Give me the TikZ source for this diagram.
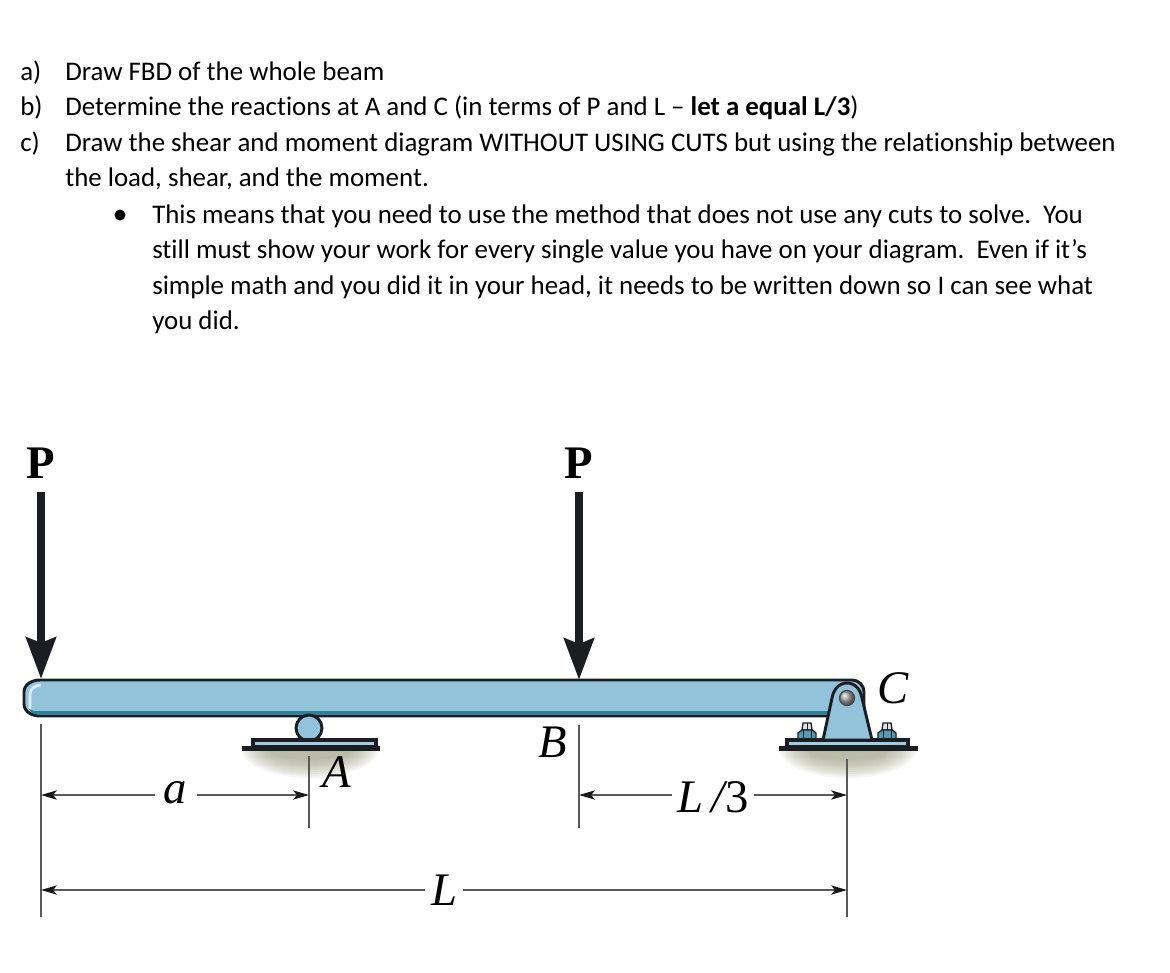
\documentclass[tikz,border=0pt]{standalone}
\usepackage{fontspec}
\setmainfont[Ligatures={NoCommon,TeX}]{Carlito}
\newfontfamily\figfont{Liberation Serif}
\usetikzlibrary{arrows.meta}
\definecolor{beamblue}{HTML}{93C3DB}
\definecolor{beamdark}{HTML}{2F7F98}
\definecolor{beamline}{HTML}{1A1E22}
\definecolor{shadowgray}{HTML}{8F9070}
\tikzset{
	dimtip/.tip={Stealth[length=12pt,width=7pt,inset=3pt,color=black!90]},
	textline/.style={anchor=base west, inner sep=0pt, font=\fontsize{20.17}{24}\selectfont},
	figlabel/.style={anchor=base, inner sep=0pt, font=\fontsize{35}{40}\selectfont\figfont\itshape},
	boldlabel/.style={anchor=base, inner sep=0pt, font=\fontsize{35}{40}\selectfont\figfont\bfseries},
	dimline/.style={draw=black!65, line width=0.9pt},
	dimleft/.style={draw=black!65, line width=0.9pt, dimtip-},
	dimright/.style={draw=black!65, line width=0.9pt, -dimtip},
	loadarrow/.style={draw=beamline, line width=6.4pt, -{Stealth[length=31pt,width=22pt,inset=4pt]}},
	partline/.style={draw=beamline, line width=2.2pt, fill=beamblue},
	plateline/.style={draw=beamline, line width=2.8pt, fill=beamblue!85!white},
}
\begin{document}
\begin{tikzpicture}[x=0.75pt,y=-0.75pt]
	\useasboundingbox (0,0) rectangle (1170,972);
	% question text
	\node[textline] (qa) at (20,80) {a)};
	\node[textline] (ta) at (65,80) {Draw FBD of the whole beam};
	\node[textline] (qb) at (20,115) {b)};
	\node[textline] (tb) at (65,115) {Determine the reactions at A and C (in terms of P and L – \textbf{let a equal L/3})};
	\node[textline] (qc) at (20,151) {c)};
	\node[textline] (tc) at (65,151) {Draw the shear and moment diagram WITHOUT USING CUTS but using the relationship between};
	\node[textline] (td) at (65,186) {the load, shear, and the moment.};
	\fill (120,215) circle (5.5);
	\node[textline] (te) at (152,223) {This means that you need to use the method that does not use any cuts to solve.\ \ You};
	\node[textline] (tf) at (152,258) {still must show your work for every single value you have on your diagram.\ \ Even if it’s};
	\node[textline] (tg) at (152,294) {simple math and you did it in your head, it needs to be written down so I can see what};
	\node[textline] (th) at (152,329) {you did.};
	% ground shadows
	\begin{scope}
		\clip (200,748) rectangle (960,800);
		\foreach \k in {1,...,10}{
			\fill[shadowgray, opacity=0.09] (310,748) ellipse ({72-3*\k} and {32-2*\k});
			\fill[shadowgray, opacity=0.09] (848,748) ellipse ({72-3*\k} and {32-2*\k});
		}
	\end{scope}
	% beam
	\path[partline] (40,680) -- (852,680) to[out=0, in=90] (864,692) -- (864,716) -- (40,716) to[out=180, in=270] (24,704) -- (24,692) to[out=90, in=180] (40,680) -- cycle;
	\fill[beamdark] (34,711) -- (830,711) -- (830,714.5) -- (38,714.5) to[out=180,in=300] (29,709) -- cycle;
	\draw[white!70!beamblue, line width=2pt, line cap=round] (30,708) to[out=90,in=270] (30,694) to[out=90,in=190] (40,685);
	% roller at A
	\draw[partline] (309,728) circle (13);
	\draw[plateline] (253,740) rectangle (376,747);
	\draw[beamline, line width=3.6pt] (242,748.5) -- (380,748.5);
	% pin at C
	\foreach \bx in {807,887}{
		\draw[beamline, line width=1pt, fill=black!12] (\bx-5,730) -- (\bx-4,723) -- (\bx+4,723) -- (\bx+5,730) -- cycle;
		\draw[beamline, line width=0.6pt] (\bx,723) -- (\bx,730);
		\draw[beamline, line width=1pt, fill=beamdark!60!beamblue] (\bx-9,739) -- (\bx-9,733) -- (\bx-5,730) -- (\bx+5,730) -- (\bx+9,733) -- (\bx+9,739) -- cycle;
		\draw[beamline, line width=0.6pt] (\bx-4,730) -- (\bx-4,739) (\bx+4,730) -- (\bx+4,739);
	}
	\draw[plateline] (787,740) rectangle (908,747);
	\draw[beamline, line width=3.6pt] (779,748.5) -- (918,748.5);
	\path[partline] (823,740) -- (832,698) to[out=80, in=180] (847,683) to[out=0, in=100] (862,698) -- (872,740) -- cycle;
	\shade[ball color=black!35, draw=black!70, line width=1pt] (847,698) circle (7.5);
	% loads
	\node[boldlabel] (pl) at (40.5,478) {P};
	\node[boldlabel] (pb) at (579,478) {P};
	\coordinate (pltail) at (41,492);
	\coordinate (plhead) at (41,679);
	\coordinate (pbtail) at (579,492);
	\coordinate (pbhead) at (579,680);
	\draw[loadarrow] (pltail) -- (plhead);
	\draw[loadarrow] (pbtail) -- (pbhead);
	% dimension lines
	\coordinate (ltop) at (41,724);
	\coordinate (lbot) at (41,917);
	\coordinate (atop) at (309,756);
	\coordinate (abot) at (309,828);
	\coordinate (btop) at (579,725);
	\coordinate (bbot) at (579,828);
	\coordinate (ctop) at (847,759);
	\coordinate (cbot) at (847,917);
	\draw[dimline] (ltop) -- (lbot);
	\draw[dimline] (atop) -- (abot);
	\draw[dimline] (btop) -- (bbot);
	\draw[dimline] (ctop) -- (cbot);
	\node[figlabel] (la) at (175,803) {a};
	\node[figlabel] (lA) at (337,787) {A};
	\node[figlabel] (lB) at (553,757) {B};
	\node[figlabel] (lC) at (893,703) {C};
	\node[figlabel] (lL) at (444,905) {L};
	\node[figlabel] (lLt) at (713,812) {L\,/\kern1pt\upshape 3};
	\coordinate (aleft) at (41,795);
	\coordinate (agapl) at (155,795);
	\coordinate (agapr) at (197,795);
	\coordinate (aright) at (309,795);
	\coordinate (bleft) at (579,795);
	\coordinate (tgapl) at (672,795);
	\coordinate (tgapr) at (754,795);
	\coordinate (cright) at (847,795);
	\coordinate (lleft) at (41,890);
	\coordinate (lgapl) at (425,890);
	\coordinate (lgapr) at (463,890);
	\coordinate (lright) at (847,890);
	\draw[dimleft] (aleft) -- (agapl);
	\draw[dimright] (agapr) -- (aright);
	\draw[dimleft] (bleft) -- (tgapl);
	\draw[dimright] (tgapr) -- (cright);
	\draw[dimleft] (lleft) -- (lgapl);
	\draw[dimright] (lgapr) -- (lright);
\end{tikzpicture}
\end{document}
